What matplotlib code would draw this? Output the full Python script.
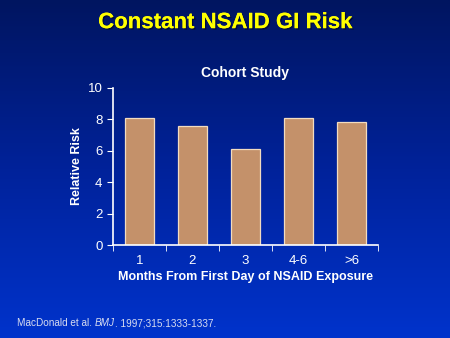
import numpy as np
import matplotlib
matplotlib.use('Agg')
import matplotlib.pyplot as plt
import matplotlib.patheffects as pe
from matplotlib.colors import LinearSegmentedColormap

# ── Data ──────────────────────────────────────────────────────────────────────
months = ['1', '2', '3', '4-6', '>6']
relative_risk = [8.1, 7.6, 6.1, 8.1, 7.8]
y_ticks = [0, 2, 4, 6, 8, 10]

plt.rcParams['font.family'] = ['Liberation Sans', 'DejaVu Sans']

fig = plt.figure(figsize=(4.5, 3.38), dpi=100)

# background gradient (dark navy top -> bright blue bottom)
bg = fig.add_axes([0, 0, 1, 1], zorder=-10)
cmap = LinearSegmentedColormap.from_list('slide', ['#001560', '#00229a', '#0033cc'])
bg.imshow(np.linspace(0, 1, 256).reshape(-1, 1), aspect='auto', cmap=cmap,
          extent=[0, 1, 0, 1])
bg.axis('off')

fig.text(0.5, 0.933, 'Constant NSAID GI Risk', color='#ffff00', fontsize=16,
         fontweight='bold', ha='center', va='center',
         path_effects=[pe.withSimplePatchShadow(offset=(1, -1),
                                                shadow_rgbFace='#000830',
                                                alpha=0.8), pe.Normal()])

ax = fig.add_axes([0.251, 0.275, 0.589, 0.465])
ax.patch.set_alpha(0)
x = np.arange(len(months))
ax.bar(x, relative_risk, width=0.53, color='#c4916a', edgecolor='#f3dcc0',
       linewidth=0.9)

ax.set_xlim(-0.5, len(months) - 0.5)
ax.set_ylim(0, 10)
ax.set_yticks(y_ticks)
ax.set_xticks(x)
ax.set_xticklabels(months)
ax.set_xticks(np.arange(-0.5, len(months), 1), minor=True)
ax.tick_params(axis='x', which='major', length=0, colors='white', labelsize=9.5,
               pad=7)
ax.tick_params(axis='x', which='minor', length=4, color='white', direction='out')
ax.tick_params(axis='y', length=4, color='white', labelcolor='white',
               labelsize=9.5, direction='out')
for side in ['top', 'right']:
    ax.spines[side].set_visible(False)
for side in ['left', 'bottom']:
    ax.spines[side].set_color('white')
    ax.spines[side].set_linewidth(1.2)

ax.set_title('Cohort Study', color='white', fontsize=10, fontweight='bold',
             pad=8)
ax.set_ylabel('Relative Risk', color='white', fontsize=9, fontweight='bold',
              labelpad=3)
ax.set_xlabel('Months From First Day of NSAID Exposure', color='white',
              fontsize=9, fontweight='bold', labelpad=3)

# footnote with italic journal name, pieces placed one after another
fig.canvas.draw()
renderer = fig.canvas.get_renderer()
note_color = '#d8dcf0'
xpos = 0.038
for part, style in [('MacDonald et al. ', 'normal'), ('BMJ', 'italic'),
                    ('. 1997;315:1333-1337.', 'normal')]:
    t = fig.text(xpos, 0.044, part, color=note_color, fontsize=7.2,
                 fontstyle=style, ha='left', va='center')
    bb = t.get_window_extent(renderer=renderer)
    xpos += bb.width / fig.bbox.width

plt.savefig('out.png', dpi=100)
plt.close()
